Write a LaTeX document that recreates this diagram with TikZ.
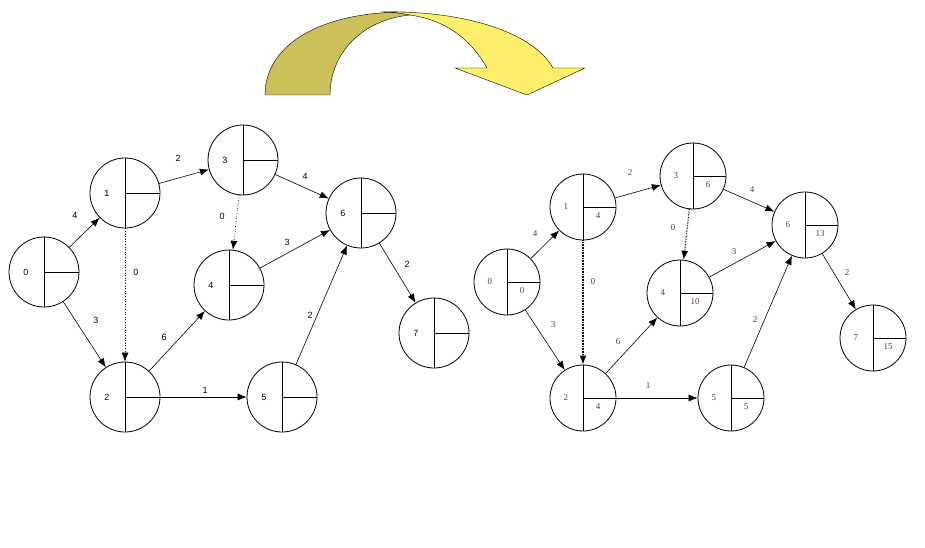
\documentclass[tikz,border=0pt]{standalone}
\usepackage{fontspec}
\setmainfont{Liberation Serif}
\newfontfamily\lsans{Liberation Sans}
\usetikzlibrary{arrows.meta,calc}
\definecolor{olv}{HTML}{CBC05A}
\definecolor{ylw}{HTML}{FFEE6A}
\definecolor{lbc}{HTML}{5A3E2A}
\definecolor{lbp}{HTML}{4B3A6B}
\begin{document}
\begin{tikzpicture}[x=1pt,y=-1pt,
  ev/.style={circle,draw,thick,inner sep=0pt},
  arr/.style={-{Latex[length=9pt,width=7pt]},semithick},
  dot/.style={arr,dotted},
  lab/.style={font=\lsans\small},
  rlab/.style={font=\small,text=lbc}]
\useasboundingbox (0,0) rectangle (925,548);
% big curved arrow
\draw[fill=olv] (265,95) .. controls (265,45) and (320,12) .. (405,12) -- (410,15) .. controls (360,20) and (330,55) .. (330,95) -- cycle;
\draw[fill=ylw] (380,12) .. controls (470,10) and (535,35) .. (553,68) -- (585,68) -- (527,95) -- (455,68) -- (487,68) .. controls (470,38) and (445,20) .. (410,15) .. controls (400,13) and (390,12) .. (380,12) -- cycle;
% node macro
\newcommand{\evnode}[7]{%
  \node[ev,minimum size=#4] (#1) at (#2,#3) {};
  \draw[semithick] (#1.north) -- (#1.south) (#1.center) -- (#1.east);
  \node[#7] at ($(#1.center)+(-#4*0.26,0)$) {#5};
  \node[#7] at ($(#1.center)+(#4*0.23,-#4*0.13)$) {#6};}
% left graph
\evnode{a0}{44}{272}{70pt}{0}{}{lab}
\evnode{a1}{125}{193}{70pt}{1}{}{lab}
\evnode{a3}{243}{160}{70pt}{3}{}{lab}
\evnode{a6}{361}{213}{70pt}{6}{}{lab}
\evnode{a4}{229}{285}{70pt}{4}{}{lab}
\evnode{a2}{125}{397}{70pt}{2}{}{lab}
\evnode{a5}{282}{397}{70pt}{5}{}{lab}
\evnode{a7}{434}{333}{70pt}{7}{}{lab}
\draw[arr] (a0) -- (a1); \node[lab] at (75,215) {4};
\draw[arr] (a0) -- (a2); \node[lab] at (96,320) {3};
\draw[arr] (a1) -- (a3); \node[lab] at (178,158) {2};
\draw[arr,dotted] (a1) -- (a2); \node[lab] at (136,272) {0};
\draw[arr,dotted,thick] (a3) -- (a4); \node[lab] at (222,216) {0};
\draw[arr] (a3) -- (a6); \node[lab] at (305,176) {4};
\draw[arr] (a4) -- (a6); \node[lab] at (287,242) {3};
\draw[arr] (a2) -- (a4); \node[lab] at (164,337) {6};
\draw[arr] (a2.east) -- (a5); \node[lab] at (205,390) {1};
\draw[arr] (a5) -- (a6); \node[lab] at (310,315) {2};
\draw[arr] (a6) -- (a7); \node[lab] at (407,264) {2};
% right graph
\evnode{b0}{507}{282}{66pt}{0}{0}{rlab}
\evnode{b1}{583}{207}{66pt}{1}{4}{rlab}
\evnode{b3}{693}{176}{66pt}{3}{6}{rlab}
\evnode{b6}{805}{225}{66pt}{6}{13}{rlab}
\evnode{b4}{680}{293}{66pt}{4}{10}{rlab}
\evnode{b2}{583}{398}{66pt}{2}{4}{rlab}
\evnode{b5}{731}{398}{66pt}{5}{5}{rlab}
\evnode{b7}{873}{338}{66pt}{7}{15}{rlab}
\draw[arr] (b0) -- (b1); \node[rlab,text=lbp] at (535,234) {4};
\draw[arr] (b0) -- (b2); \node[rlab,text=lbp] at (553,325) {3};
\draw[arr] (b1) -- (b3); \node[rlab] at (630,173) {2};
\draw[arr,densely dotted,very thick] (b1) -- (b2); \node[rlab] at (593,282) {0};
\draw[arr,densely dotted,very thick] (b3) -- (b4); \node[rlab] at (673,228) {0};
\draw[arr] (b3) -- (b6); \node[rlab] at (752,190) {4};
\draw[arr] (b4) -- (b6); \node[rlab,text=lbp] at (734,252) {3};
\draw[arr] (b2) -- (b4); \node[rlab] at (618,342) {6};
\draw[arr] (b2.east) -- (b5); \node[rlab,text=lbp] at (648,386) {1};
\draw[arr] (b5) -- (b6); \node[rlab] at (755,320) {2};
\draw[arr] (b6) -- (b7); \node[rlab] at (847,273) {2};
\end{tikzpicture}
\end{document}
